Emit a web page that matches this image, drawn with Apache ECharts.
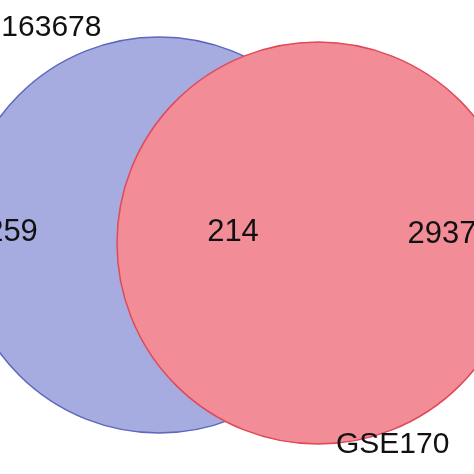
<!DOCTYPE html>
<html><head><meta charset="utf-8">
<script src="https://cdn.jsdelivr.net/npm/echarts@6/dist/echarts.min.js"></script>
<style>html,body{margin:0;padding:0;background:#fff}#c{width:474px;height:474px}</style>
</head><body><div id="c"></div>
<script>
const setNames = ['GSE163678', 'GSE170'];
const regionCounts = [259, 214, 2937];
const circleX = [159, 318];
const circleY = [235, 243];
const circleR = [198, 201];
const countX = [12, 233, 442];
const countY = [232, 232, 234];
const nameX = [-62, 336];
const nameY = [28, 445];
const fills = ['#a6acdf', '#f28d97'];
const strokes = ['#5c68c0', '#e0495a'];

const chart = echarts.init(document.getElementById('c'));
const circleData = circleX.map((x, i) => [x, circleY[i], circleR[i], i]);
chart.setOption({
  animation: false,
  grid: {left: 0, right: 0, top: 0, bottom: 0},
  xAxis: {type: 'value', min: 0, max: 474, show: false},
  yAxis: {type: 'value', min: 0, max: 474, inverse: true, show: false},
  series: [
    {type: 'custom', data: circleData, renderItem: (p, api) => {
      const c = api.coord([api.value(0), api.value(1)]);
      const r = api.size([api.value(2), 0])[0];
      const i = api.value(3);
      return {type: 'circle', shape: {cx: c[0], cy: c[1], r: r},
        style: {fill: fills[i], stroke: strokes[i], lineWidth: 1.5, blend: i === 1 ? 'multiply' : 'source-over'}};
    }},
    {type: 'custom', data: countX.map((x, i) => [x, countY[i], regionCounts[i]]), renderItem: (p, api) => {
      const c = api.coord([api.value(0), api.value(1)]);
      return {type: 'text', x: c[0], y: c[1], style: {text: String(api.value(2)),
        fill: '#111', font: '31px "Liberation Sans", Arial', align: 'center', verticalAlign: 'middle'}};
    }},
    {type: 'custom', data: nameX.map((x, i) => [x, nameY[i], i]), renderItem: (p, api) => {
      const c = api.coord([api.value(0), api.value(1)]);
      return {type: 'text', x: c[0], y: c[1], style: {text: setNames[api.value(2)],
        fill: '#111', font: '30px "Liberation Sans", Arial', align: 'left', verticalAlign: 'middle'}};
    }}
  ]
});
</script></body></html>
